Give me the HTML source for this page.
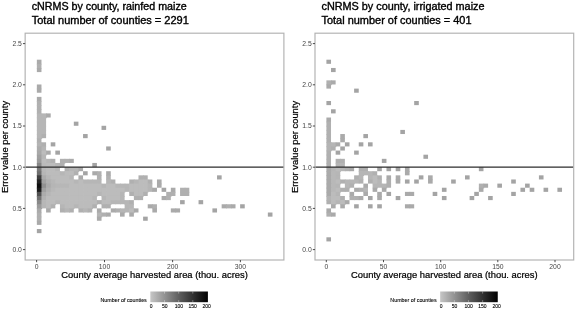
<!DOCTYPE html>
<html lang="en">
<head>
<meta charset="utf-8">
<title>cNRMS by county</title>
<style>
html,body{margin:0;padding:0;background:#fff;}
body{width:575px;height:311px;overflow:hidden;}
svg{display:block;}
text{font-family:"Liberation Sans",sans-serif;}
.tt{font-size:10.2px;fill:#000;stroke:#000;stroke-width:0.35px;}
.ax{font-size:9.38px;fill:#000;stroke:#000;stroke-width:0.22px;}
.tk{font-size:6.8px;fill:#454545;}
.lg{font-size:5px;fill:#000;stroke:#000;stroke-width:0.1px;}
.lt{font-size:5.35px;fill:#000;stroke:#000;stroke-width:0.1px;}
</style>
</head>
<body>
<svg width="575" height="311" viewBox="0 0 575 311">
<defs>
<linearGradient id="lg" x1="0" y1="0" x2="1" y2="0">
<stop offset="0" stop-color="#c6c6c6"/>
<stop offset="0.5" stop-color="#5e5e5e"/>
<stop offset="1" stop-color="#000"/>
</linearGradient>
</defs>
<rect x="0" y="0" width="575" height="311" fill="#fff"/>
<g shape-rendering="auto">
<rect x="36.85" y="59.70" width="4.62" height="4.83" fill="#aaaaaa"/>
<rect x="36.85" y="63.83" width="4.62" height="4.83" fill="#b0b0b0"/>
<rect x="36.85" y="67.96" width="4.62" height="4.13" fill="#aaaaaa"/>
<rect x="36.85" y="84.48" width="4.62" height="4.83" fill="#aaaaaa"/>
<rect x="36.85" y="88.61" width="4.62" height="4.13" fill="#aaaaaa"/>
<rect x="36.85" y="96.87" width="4.62" height="4.83" fill="#aaaaaa"/>
<rect x="36.85" y="101.00" width="4.62" height="4.83" fill="#b0b0b0"/>
<rect x="36.85" y="105.13" width="4.62" height="4.83" fill="#b0b0b0"/>
<rect x="36.85" y="109.26" width="4.62" height="4.83" fill="#b0b0b0"/>
<rect x="36.85" y="113.39" width="5.32" height="4.83" fill="#b6b6b6"/>
<rect x="41.47" y="113.39" width="5.32" height="4.83" fill="#b6b6b6"/>
<rect x="46.09" y="113.39" width="4.62" height="4.13" fill="#aaaaaa"/>
<rect x="36.85" y="117.52" width="5.32" height="4.83" fill="#b6b6b6"/>
<rect x="41.47" y="117.52" width="4.62" height="4.83" fill="#b6b6b6"/>
<rect x="36.85" y="121.65" width="5.32" height="4.83" fill="#b6b6b6"/>
<rect x="41.47" y="121.65" width="4.62" height="4.83" fill="#b6b6b6"/>
<rect x="73.81" y="121.65" width="4.62" height="4.13" fill="#a4a4a4"/>
<rect x="36.85" y="125.78" width="5.32" height="4.83" fill="#b6b6b6"/>
<rect x="41.47" y="125.78" width="4.62" height="4.83" fill="#b6b6b6"/>
<rect x="101.53" y="125.78" width="4.62" height="4.13" fill="#a4a4a4"/>
<rect x="36.85" y="129.91" width="5.32" height="4.83" fill="#b6b6b6"/>
<rect x="41.47" y="129.91" width="4.62" height="4.83" fill="#b6b6b6"/>
<rect x="36.85" y="134.04" width="5.32" height="4.83" fill="#b6b6b6"/>
<rect x="41.47" y="134.04" width="4.62" height="4.13" fill="#b0b0b0"/>
<rect x="83.05" y="134.04" width="4.62" height="4.13" fill="#a4a4a4"/>
<rect x="36.85" y="138.17" width="4.62" height="4.83" fill="#b0b0b0"/>
<rect x="36.85" y="142.30" width="5.32" height="4.83" fill="#b4b4b4"/>
<rect x="41.47" y="142.30" width="4.62" height="4.83" fill="#b0b0b0"/>
<rect x="50.71" y="142.30" width="4.62" height="4.13" fill="#a4a4a4"/>
<rect x="36.85" y="146.43" width="5.32" height="4.83" fill="#acacac"/>
<rect x="41.47" y="146.43" width="4.62" height="4.83" fill="#b6b6b6"/>
<rect x="106.15" y="146.43" width="4.62" height="4.13" fill="#a4a4a4"/>
<rect x="36.85" y="150.56" width="5.32" height="4.83" fill="#a8a8a8"/>
<rect x="41.47" y="150.56" width="5.32" height="4.83" fill="#bcbcbc"/>
<rect x="46.09" y="150.56" width="4.62" height="4.13" fill="#aaaaaa"/>
<rect x="55.33" y="150.56" width="4.62" height="4.13" fill="#a4a4a4"/>
<rect x="36.85" y="154.69" width="5.32" height="4.83" fill="#a0a0a0"/>
<rect x="41.47" y="154.69" width="4.62" height="4.83" fill="#b6b6b6"/>
<rect x="36.85" y="158.82" width="5.32" height="4.83" fill="#9b9b9b"/>
<rect x="41.47" y="158.82" width="5.32" height="4.83" fill="#bcbcbc"/>
<rect x="46.09" y="158.82" width="5.32" height="4.83" fill="#b6b6b6"/>
<rect x="50.71" y="158.82" width="4.62" height="4.83" fill="#b0b0b0"/>
<rect x="59.95" y="158.82" width="5.32" height="4.83" fill="#b0b0b0"/>
<rect x="64.57" y="158.82" width="5.32" height="4.13" fill="#b0b0b0"/>
<rect x="69.19" y="158.82" width="4.62" height="4.13" fill="#aaaaaa"/>
<rect x="36.85" y="162.95" width="5.32" height="4.83" fill="#878787"/>
<rect x="41.47" y="162.95" width="5.32" height="4.83" fill="#bababa"/>
<rect x="46.09" y="162.95" width="5.32" height="4.83" fill="#bcbcbc"/>
<rect x="50.71" y="162.95" width="5.32" height="4.83" fill="#bcbcbc"/>
<rect x="55.33" y="162.95" width="5.32" height="4.83" fill="#b6b6b6"/>
<rect x="59.95" y="162.95" width="4.62" height="4.13" fill="#b0b0b0"/>
<rect x="92.29" y="162.95" width="4.62" height="4.13" fill="#a4a4a4"/>
<rect x="36.85" y="167.08" width="5.32" height="4.83" fill="#787878"/>
<rect x="41.47" y="167.08" width="5.32" height="4.83" fill="#b8b8b8"/>
<rect x="46.09" y="167.08" width="5.32" height="4.83" fill="#bcbcbc"/>
<rect x="50.71" y="167.08" width="5.32" height="4.83" fill="#bcbcbc"/>
<rect x="55.33" y="167.08" width="4.62" height="4.83" fill="#b6b6b6"/>
<rect x="64.57" y="167.08" width="5.32" height="4.83" fill="#b0b0b0"/>
<rect x="69.19" y="167.08" width="5.32" height="4.83" fill="#b6b6b6"/>
<rect x="73.81" y="167.08" width="5.32" height="4.83" fill="#b6b6b6"/>
<rect x="78.43" y="167.08" width="4.62" height="4.13" fill="#aaaaaa"/>
<rect x="36.85" y="171.21" width="5.32" height="4.83" fill="#6e6e6e"/>
<rect x="41.47" y="171.21" width="5.32" height="4.83" fill="#b6b6b6"/>
<rect x="46.09" y="171.21" width="5.32" height="4.83" fill="#bcbcbc"/>
<rect x="50.71" y="171.21" width="5.32" height="4.83" fill="#bcbcbc"/>
<rect x="55.33" y="171.21" width="5.32" height="4.83" fill="#bcbcbc"/>
<rect x="59.95" y="171.21" width="5.32" height="4.83" fill="#b6b6b6"/>
<rect x="64.57" y="171.21" width="5.32" height="4.83" fill="#bcbcbc"/>
<rect x="69.19" y="171.21" width="5.32" height="4.83" fill="#bcbcbc"/>
<rect x="73.81" y="171.21" width="4.62" height="4.13" fill="#b0b0b0"/>
<rect x="83.05" y="171.21" width="4.62" height="4.13" fill="#a4a4a4"/>
<rect x="92.29" y="171.21" width="5.32" height="4.13" fill="#aaaaaa"/>
<rect x="96.91" y="171.21" width="4.62" height="4.83" fill="#b0b0b0"/>
<rect x="106.15" y="171.21" width="4.62" height="4.83" fill="#aaaaaa"/>
<rect x="36.85" y="175.34" width="5.32" height="4.83" fill="#3e3e3e"/>
<rect x="41.47" y="175.34" width="5.32" height="4.83" fill="#acacac"/>
<rect x="46.09" y="175.34" width="5.32" height="4.83" fill="#b7b7b7"/>
<rect x="50.71" y="175.34" width="5.32" height="4.83" fill="#bcbcbc"/>
<rect x="55.33" y="175.34" width="5.32" height="4.83" fill="#bcbcbc"/>
<rect x="59.95" y="175.34" width="5.32" height="4.83" fill="#bcbcbc"/>
<rect x="64.57" y="175.34" width="5.32" height="4.83" fill="#bcbcbc"/>
<rect x="69.19" y="175.34" width="4.62" height="4.83" fill="#b6b6b6"/>
<rect x="78.43" y="175.34" width="4.62" height="4.83" fill="#aaaaaa"/>
<rect x="96.91" y="175.34" width="4.62" height="4.83" fill="#b0b0b0"/>
<rect x="106.15" y="175.34" width="4.62" height="4.83" fill="#b0b0b0"/>
<rect x="138.49" y="175.34" width="5.32" height="4.83" fill="#b0b0b0"/>
<rect x="143.11" y="175.34" width="4.62" height="4.83" fill="#b0b0b0"/>
<rect x="217.03" y="175.34" width="4.62" height="4.13" fill="#a4a4a4"/>
<rect x="36.85" y="179.47" width="5.32" height="4.83" fill="#242424"/>
<rect x="41.47" y="179.47" width="5.32" height="4.83" fill="#a2a2a2"/>
<rect x="46.09" y="179.47" width="5.32" height="4.83" fill="#b0b0b0"/>
<rect x="50.71" y="179.47" width="5.32" height="4.83" fill="#b7b7b7"/>
<rect x="55.33" y="179.47" width="5.32" height="4.83" fill="#bcbcbc"/>
<rect x="59.95" y="179.47" width="5.32" height="4.83" fill="#bcbcbc"/>
<rect x="64.57" y="179.47" width="5.32" height="4.83" fill="#bcbcbc"/>
<rect x="69.19" y="179.47" width="5.32" height="4.83" fill="#bcbcbc"/>
<rect x="73.81" y="179.47" width="5.32" height="4.83" fill="#b6b6b6"/>
<rect x="78.43" y="179.47" width="5.32" height="4.83" fill="#bcbcbc"/>
<rect x="83.05" y="179.47" width="5.32" height="4.83" fill="#b6b6b6"/>
<rect x="87.67" y="179.47" width="5.32" height="4.83" fill="#b6b6b6"/>
<rect x="92.29" y="179.47" width="5.32" height="4.83" fill="#b6b6b6"/>
<rect x="96.91" y="179.47" width="4.62" height="4.83" fill="#b6b6b6"/>
<rect x="106.15" y="179.47" width="5.32" height="4.83" fill="#b6b6b6"/>
<rect x="110.77" y="179.47" width="4.62" height="4.83" fill="#b0b0b0"/>
<rect x="129.25" y="179.47" width="5.32" height="4.83" fill="#b0b0b0"/>
<rect x="133.87" y="179.47" width="5.32" height="4.83" fill="#b6b6b6"/>
<rect x="138.49" y="179.47" width="5.32" height="4.83" fill="#bcbcbc"/>
<rect x="143.11" y="179.47" width="5.32" height="4.83" fill="#bcbcbc"/>
<rect x="147.73" y="179.47" width="4.62" height="4.83" fill="#b0b0b0"/>
<rect x="156.97" y="179.47" width="4.62" height="4.83" fill="#aaaaaa"/>
<rect x="36.85" y="183.60" width="5.32" height="4.83" fill="#0e0e0e"/>
<rect x="41.47" y="183.60" width="5.32" height="4.83" fill="#919191"/>
<rect x="46.09" y="183.60" width="5.32" height="4.83" fill="#aaaaaa"/>
<rect x="50.71" y="183.60" width="5.32" height="4.83" fill="#b5b5b5"/>
<rect x="55.33" y="183.60" width="5.32" height="4.83" fill="#b7b7b7"/>
<rect x="59.95" y="183.60" width="5.32" height="4.83" fill="#b7b7b7"/>
<rect x="64.57" y="183.60" width="5.32" height="4.83" fill="#b7b7b7"/>
<rect x="69.19" y="183.60" width="5.32" height="4.83" fill="#bcbcbc"/>
<rect x="73.81" y="183.60" width="5.32" height="4.83" fill="#bcbcbc"/>
<rect x="78.43" y="183.60" width="5.32" height="4.83" fill="#bcbcbc"/>
<rect x="83.05" y="183.60" width="5.32" height="4.83" fill="#bcbcbc"/>
<rect x="87.67" y="183.60" width="5.32" height="4.83" fill="#bcbcbc"/>
<rect x="92.29" y="183.60" width="5.32" height="4.83" fill="#bcbcbc"/>
<rect x="96.91" y="183.60" width="5.32" height="4.83" fill="#bcbcbc"/>
<rect x="101.53" y="183.60" width="5.32" height="4.83" fill="#b6b6b6"/>
<rect x="106.15" y="183.60" width="5.32" height="4.83" fill="#bcbcbc"/>
<rect x="110.77" y="183.60" width="5.32" height="4.83" fill="#bcbcbc"/>
<rect x="115.39" y="183.60" width="5.32" height="4.83" fill="#b6b6b6"/>
<rect x="120.01" y="183.60" width="5.32" height="4.83" fill="#b6b6b6"/>
<rect x="124.63" y="183.60" width="5.32" height="4.83" fill="#b6b6b6"/>
<rect x="129.25" y="183.60" width="5.32" height="4.83" fill="#bcbcbc"/>
<rect x="133.87" y="183.60" width="5.32" height="4.83" fill="#bcbcbc"/>
<rect x="138.49" y="183.60" width="5.32" height="4.83" fill="#bcbcbc"/>
<rect x="143.11" y="183.60" width="5.32" height="4.83" fill="#bcbcbc"/>
<rect x="147.73" y="183.60" width="4.62" height="4.83" fill="#b6b6b6"/>
<rect x="156.97" y="183.60" width="4.62" height="4.13" fill="#aaaaaa"/>
<rect x="36.85" y="187.73" width="5.32" height="4.83" fill="#1c1c1c"/>
<rect x="41.47" y="187.73" width="5.32" height="4.83" fill="#a0a0a0"/>
<rect x="46.09" y="187.73" width="5.32" height="4.83" fill="#b0b0b0"/>
<rect x="50.71" y="187.73" width="5.32" height="4.83" fill="#b8b8b8"/>
<rect x="55.33" y="187.73" width="5.32" height="4.83" fill="#bcbcbc"/>
<rect x="59.95" y="187.73" width="5.32" height="4.83" fill="#bcbcbc"/>
<rect x="64.57" y="187.73" width="5.32" height="4.83" fill="#bcbcbc"/>
<rect x="69.19" y="187.73" width="5.32" height="4.83" fill="#bcbcbc"/>
<rect x="73.81" y="187.73" width="5.32" height="4.83" fill="#bcbcbc"/>
<rect x="78.43" y="187.73" width="5.32" height="4.83" fill="#bcbcbc"/>
<rect x="83.05" y="187.73" width="5.32" height="4.83" fill="#bcbcbc"/>
<rect x="87.67" y="187.73" width="5.32" height="4.83" fill="#bcbcbc"/>
<rect x="92.29" y="187.73" width="5.32" height="4.83" fill="#bcbcbc"/>
<rect x="96.91" y="187.73" width="5.32" height="4.83" fill="#bcbcbc"/>
<rect x="101.53" y="187.73" width="5.32" height="4.83" fill="#bcbcbc"/>
<rect x="106.15" y="187.73" width="5.32" height="4.83" fill="#bcbcbc"/>
<rect x="110.77" y="187.73" width="5.32" height="4.83" fill="#bcbcbc"/>
<rect x="115.39" y="187.73" width="5.32" height="4.83" fill="#bcbcbc"/>
<rect x="120.01" y="187.73" width="5.32" height="4.83" fill="#bcbcbc"/>
<rect x="124.63" y="187.73" width="5.32" height="4.13" fill="#b6b6b6"/>
<rect x="129.25" y="187.73" width="5.32" height="4.83" fill="#bcbcbc"/>
<rect x="133.87" y="187.73" width="5.32" height="4.83" fill="#bcbcbc"/>
<rect x="138.49" y="187.73" width="5.32" height="4.83" fill="#bcbcbc"/>
<rect x="143.11" y="187.73" width="5.32" height="4.83" fill="#bcbcbc"/>
<rect x="147.73" y="187.73" width="5.32" height="4.13" fill="#b6b6b6"/>
<rect x="152.35" y="187.73" width="4.62" height="4.13" fill="#aaaaaa"/>
<rect x="161.59" y="187.73" width="4.62" height="4.13" fill="#a4a4a4"/>
<rect x="170.83" y="187.73" width="4.62" height="4.83" fill="#aaaaaa"/>
<rect x="180.07" y="187.73" width="5.32" height="4.83" fill="#b0b0b0"/>
<rect x="184.69" y="187.73" width="4.62" height="4.83" fill="#b0b0b0"/>
<rect x="36.85" y="191.86" width="5.32" height="4.83" fill="#505050"/>
<rect x="41.47" y="191.86" width="5.32" height="4.83" fill="#acacac"/>
<rect x="46.09" y="191.86" width="5.32" height="4.83" fill="#b6b6b6"/>
<rect x="50.71" y="191.86" width="5.32" height="4.83" fill="#bcbcbc"/>
<rect x="55.33" y="191.86" width="5.32" height="4.83" fill="#bcbcbc"/>
<rect x="59.95" y="191.86" width="5.32" height="4.83" fill="#bcbcbc"/>
<rect x="64.57" y="191.86" width="5.32" height="4.83" fill="#bcbcbc"/>
<rect x="69.19" y="191.86" width="5.32" height="4.83" fill="#bcbcbc"/>
<rect x="73.81" y="191.86" width="5.32" height="4.83" fill="#bcbcbc"/>
<rect x="78.43" y="191.86" width="5.32" height="4.83" fill="#bcbcbc"/>
<rect x="83.05" y="191.86" width="5.32" height="4.83" fill="#bcbcbc"/>
<rect x="87.67" y="191.86" width="5.32" height="4.83" fill="#bcbcbc"/>
<rect x="92.29" y="191.86" width="5.32" height="4.83" fill="#bcbcbc"/>
<rect x="96.91" y="191.86" width="5.32" height="4.13" fill="#b6b6b6"/>
<rect x="101.53" y="191.86" width="5.32" height="4.83" fill="#bcbcbc"/>
<rect x="106.15" y="191.86" width="5.32" height="4.83" fill="#bcbcbc"/>
<rect x="110.77" y="191.86" width="5.32" height="4.83" fill="#bcbcbc"/>
<rect x="115.39" y="191.86" width="5.32" height="4.83" fill="#bcbcbc"/>
<rect x="120.01" y="191.86" width="4.62" height="4.83" fill="#b6b6b6"/>
<rect x="129.25" y="191.86" width="5.32" height="4.13" fill="#b0b0b0"/>
<rect x="133.87" y="191.86" width="5.32" height="4.83" fill="#bcbcbc"/>
<rect x="138.49" y="191.86" width="5.32" height="4.83" fill="#bcbcbc"/>
<rect x="143.11" y="191.86" width="4.62" height="4.13" fill="#b0b0b0"/>
<rect x="166.21" y="191.86" width="5.32" height="4.83" fill="#b0b0b0"/>
<rect x="170.83" y="191.86" width="4.62" height="4.13" fill="#b0b0b0"/>
<rect x="180.07" y="191.86" width="5.32" height="4.13" fill="#b0b0b0"/>
<rect x="184.69" y="191.86" width="4.62" height="4.13" fill="#b0b0b0"/>
<rect x="36.85" y="195.99" width="5.32" height="4.83" fill="#707070"/>
<rect x="41.47" y="195.99" width="5.32" height="4.83" fill="#b2b2b2"/>
<rect x="46.09" y="195.99" width="5.32" height="4.83" fill="#bcbcbc"/>
<rect x="50.71" y="195.99" width="5.32" height="4.83" fill="#bcbcbc"/>
<rect x="55.33" y="195.99" width="5.32" height="4.83" fill="#bcbcbc"/>
<rect x="59.95" y="195.99" width="5.32" height="4.83" fill="#bcbcbc"/>
<rect x="64.57" y="195.99" width="5.32" height="4.83" fill="#bcbcbc"/>
<rect x="69.19" y="195.99" width="5.32" height="4.83" fill="#bcbcbc"/>
<rect x="73.81" y="195.99" width="5.32" height="4.83" fill="#bcbcbc"/>
<rect x="78.43" y="195.99" width="5.32" height="4.83" fill="#bcbcbc"/>
<rect x="83.05" y="195.99" width="5.32" height="4.83" fill="#bcbcbc"/>
<rect x="87.67" y="195.99" width="5.32" height="4.83" fill="#bcbcbc"/>
<rect x="92.29" y="195.99" width="4.62" height="4.83" fill="#b6b6b6"/>
<rect x="101.53" y="195.99" width="5.32" height="4.83" fill="#b6b6b6"/>
<rect x="106.15" y="195.99" width="5.32" height="4.83" fill="#bcbcbc"/>
<rect x="110.77" y="195.99" width="5.32" height="4.83" fill="#bcbcbc"/>
<rect x="115.39" y="195.99" width="5.32" height="4.83" fill="#bcbcbc"/>
<rect x="120.01" y="195.99" width="4.62" height="4.83" fill="#b6b6b6"/>
<rect x="133.87" y="195.99" width="5.32" height="4.13" fill="#b0b0b0"/>
<rect x="138.49" y="195.99" width="4.62" height="4.13" fill="#b0b0b0"/>
<rect x="161.59" y="195.99" width="5.32" height="4.13" fill="#aaaaaa"/>
<rect x="166.21" y="195.99" width="4.62" height="4.13" fill="#b0b0b0"/>
<rect x="36.85" y="200.12" width="5.32" height="4.83" fill="#888888"/>
<rect x="41.47" y="200.12" width="5.32" height="4.83" fill="#b7b7b7"/>
<rect x="46.09" y="200.12" width="5.32" height="4.83" fill="#bcbcbc"/>
<rect x="50.71" y="200.12" width="5.32" height="4.83" fill="#bcbcbc"/>
<rect x="55.33" y="200.12" width="5.32" height="4.13" fill="#b6b6b6"/>
<rect x="59.95" y="200.12" width="5.32" height="4.83" fill="#bcbcbc"/>
<rect x="64.57" y="200.12" width="5.32" height="4.83" fill="#bcbcbc"/>
<rect x="69.19" y="200.12" width="5.32" height="4.83" fill="#bcbcbc"/>
<rect x="73.81" y="200.12" width="5.32" height="4.83" fill="#bcbcbc"/>
<rect x="78.43" y="200.12" width="5.32" height="4.83" fill="#bcbcbc"/>
<rect x="83.05" y="200.12" width="5.32" height="4.83" fill="#bcbcbc"/>
<rect x="87.67" y="200.12" width="5.32" height="4.83" fill="#bcbcbc"/>
<rect x="92.29" y="200.12" width="5.32" height="4.83" fill="#bcbcbc"/>
<rect x="96.91" y="200.12" width="5.32" height="4.13" fill="#b0b0b0"/>
<rect x="101.53" y="200.12" width="5.32" height="4.83" fill="#bcbcbc"/>
<rect x="106.15" y="200.12" width="5.32" height="4.83" fill="#bcbcbc"/>
<rect x="110.77" y="200.12" width="5.32" height="4.13" fill="#b6b6b6"/>
<rect x="115.39" y="200.12" width="5.32" height="4.13" fill="#b6b6b6"/>
<rect x="120.01" y="200.12" width="5.32" height="4.13" fill="#b6b6b6"/>
<rect x="124.63" y="200.12" width="5.32" height="4.83" fill="#b6b6b6"/>
<rect x="129.25" y="200.12" width="4.62" height="4.83" fill="#b0b0b0"/>
<rect x="180.07" y="200.12" width="4.62" height="4.13" fill="#a4a4a4"/>
<rect x="198.55" y="200.12" width="4.62" height="4.13" fill="#a4a4a4"/>
<rect x="36.85" y="204.25" width="5.32" height="4.83" fill="#9b9b9b"/>
<rect x="41.47" y="204.25" width="5.32" height="4.13" fill="#b6b6b6"/>
<rect x="46.09" y="204.25" width="5.32" height="4.83" fill="#bcbcbc"/>
<rect x="50.71" y="204.25" width="4.62" height="4.13" fill="#b0b0b0"/>
<rect x="59.95" y="204.25" width="5.32" height="4.83" fill="#b6b6b6"/>
<rect x="64.57" y="204.25" width="5.32" height="4.83" fill="#bcbcbc"/>
<rect x="69.19" y="204.25" width="5.32" height="4.83" fill="#bcbcbc"/>
<rect x="73.81" y="204.25" width="5.32" height="4.13" fill="#b6b6b6"/>
<rect x="78.43" y="204.25" width="5.32" height="4.83" fill="#bcbcbc"/>
<rect x="83.05" y="204.25" width="5.32" height="4.83" fill="#bcbcbc"/>
<rect x="87.67" y="204.25" width="5.32" height="4.83" fill="#bcbcbc"/>
<rect x="92.29" y="204.25" width="4.62" height="4.13" fill="#b0b0b0"/>
<rect x="101.53" y="204.25" width="5.32" height="4.13" fill="#b0b0b0"/>
<rect x="106.15" y="204.25" width="4.62" height="4.13" fill="#b0b0b0"/>
<rect x="124.63" y="204.25" width="5.32" height="4.83" fill="#b6b6b6"/>
<rect x="129.25" y="204.25" width="4.62" height="4.83" fill="#b6b6b6"/>
<rect x="147.73" y="204.25" width="5.32" height="4.13" fill="#aaaaaa"/>
<rect x="152.35" y="204.25" width="4.62" height="4.83" fill="#b0b0b0"/>
<rect x="221.65" y="204.25" width="5.32" height="4.13" fill="#aaaaaa"/>
<rect x="226.27" y="204.25" width="5.32" height="4.13" fill="#b0b0b0"/>
<rect x="230.89" y="204.25" width="4.62" height="4.13" fill="#aaaaaa"/>
<rect x="240.13" y="204.25" width="4.62" height="4.13" fill="#a4a4a4"/>
<rect x="36.85" y="208.38" width="4.62" height="4.83" fill="#aaaaaa"/>
<rect x="46.09" y="208.38" width="4.62" height="4.13" fill="#aaaaaa"/>
<rect x="59.95" y="208.38" width="5.32" height="4.13" fill="#b0b0b0"/>
<rect x="64.57" y="208.38" width="5.32" height="4.13" fill="#b6b6b6"/>
<rect x="69.19" y="208.38" width="4.62" height="4.13" fill="#b0b0b0"/>
<rect x="78.43" y="208.38" width="5.32" height="4.13" fill="#b0b0b0"/>
<rect x="83.05" y="208.38" width="5.32" height="4.13" fill="#b6b6b6"/>
<rect x="87.67" y="208.38" width="4.62" height="4.13" fill="#b0b0b0"/>
<rect x="96.91" y="208.38" width="4.62" height="4.83" fill="#aaaaaa"/>
<rect x="110.77" y="208.38" width="5.32" height="4.13" fill="#aaaaaa"/>
<rect x="115.39" y="208.38" width="5.32" height="4.13" fill="#b0b0b0"/>
<rect x="120.01" y="208.38" width="5.32" height="4.83" fill="#b6b6b6"/>
<rect x="124.63" y="208.38" width="5.32" height="4.13" fill="#b6b6b6"/>
<rect x="129.25" y="208.38" width="5.32" height="4.83" fill="#bcbcbc"/>
<rect x="133.87" y="208.38" width="4.62" height="4.13" fill="#aaaaaa"/>
<rect x="152.35" y="208.38" width="4.62" height="4.13" fill="#aaaaaa"/>
<rect x="170.83" y="208.38" width="5.32" height="4.13" fill="#aaaaaa"/>
<rect x="175.45" y="208.38" width="4.62" height="4.13" fill="#aaaaaa"/>
<rect x="212.41" y="208.38" width="4.62" height="4.13" fill="#a4a4a4"/>
<rect x="36.85" y="212.51" width="4.62" height="4.83" fill="#b0b0b0"/>
<rect x="96.91" y="212.51" width="5.32" height="4.83" fill="#b6b6b6"/>
<rect x="101.53" y="212.51" width="5.32" height="4.13" fill="#b0b0b0"/>
<rect x="106.15" y="212.51" width="4.62" height="4.13" fill="#aaaaaa"/>
<rect x="120.01" y="212.51" width="4.62" height="4.13" fill="#aaaaaa"/>
<rect x="129.25" y="212.51" width="4.62" height="4.13" fill="#aaaaaa"/>
<rect x="267.85" y="212.51" width="4.62" height="4.13" fill="#a4a4a4"/>
<rect x="36.85" y="216.64" width="4.62" height="4.83" fill="#b0b0b0"/>
<rect x="96.91" y="216.64" width="4.62" height="4.13" fill="#aaaaaa"/>
<rect x="143.11" y="216.64" width="4.62" height="4.13" fill="#a4a4a4"/>
<rect x="36.85" y="220.77" width="4.62" height="4.13" fill="#aaaaaa"/>
<rect x="36.85" y="229.03" width="4.62" height="4.13" fill="#a4a4a4"/>
</g>
<line x1="25.15" y1="167.05" x2="283.90" y2="167.05" stroke="#2c2c2c" stroke-width="1.2"/>
<rect x="25.15" y="33.20" width="258.75" height="226.80" fill="none" stroke="#b4b4b4" stroke-width="1.2"/>
<line x1="22.95" y1="249.60" x2="25.15" y2="249.60" stroke="#383838" stroke-width="0.9"/>
<text x="21.85" y="251.95" class="tk" text-anchor="end">0.0</text>
<line x1="22.95" y1="208.40" x2="25.15" y2="208.40" stroke="#383838" stroke-width="0.9"/>
<text x="21.85" y="210.75" class="tk" text-anchor="end">0.5</text>
<line x1="22.95" y1="167.20" x2="25.15" y2="167.20" stroke="#383838" stroke-width="0.9"/>
<text x="21.85" y="169.55" class="tk" text-anchor="end">1.0</text>
<line x1="22.95" y1="126.00" x2="25.15" y2="126.00" stroke="#383838" stroke-width="0.9"/>
<text x="21.85" y="128.35" class="tk" text-anchor="end">1.5</text>
<line x1="22.95" y1="84.80" x2="25.15" y2="84.80" stroke="#383838" stroke-width="0.9"/>
<text x="21.85" y="87.15" class="tk" text-anchor="end">2.0</text>
<line x1="22.95" y1="43.60" x2="25.15" y2="43.60" stroke="#383838" stroke-width="0.9"/>
<text x="21.85" y="45.95" class="tk" text-anchor="end">2.5</text>
<line x1="36.60" y1="260.00" x2="36.60" y2="262.20" stroke="#383838" stroke-width="0.9"/>
<text x="36.60" y="268.80" class="tk" text-anchor="middle">0</text>
<line x1="104.50" y1="260.00" x2="104.50" y2="262.20" stroke="#383838" stroke-width="0.9"/>
<text x="104.50" y="268.80" class="tk" text-anchor="middle">100</text>
<line x1="172.60" y1="260.00" x2="172.60" y2="262.20" stroke="#383838" stroke-width="0.9"/>
<text x="172.60" y="268.80" class="tk" text-anchor="middle">200</text>
<line x1="240.40" y1="260.00" x2="240.40" y2="262.20" stroke="#383838" stroke-width="0.9"/>
<text x="240.40" y="268.80" class="tk" text-anchor="middle">300</text>
<text x="154.52" y="278.00" class="ax" text-anchor="middle">County average harvested area (thou. acres)</text>
<text transform="translate(8.15 147.00) rotate(-90)" class="ax" text-anchor="middle">Error value per county</text>
<text x="31.70" y="9.9" class="tt" textLength="155" lengthAdjust="spacingAndGlyphs">cNRMS by county, rainfed maize</text>
<text x="31.70" y="24.45" class="tt" textLength="157.2" lengthAdjust="spacingAndGlyphs">Total number of counties = 2291</text>
<g shape-rendering="auto">
<rect x="326.40" y="59.70" width="4.62" height="4.13" fill="#a4a4a4"/>
<rect x="331.02" y="67.96" width="4.62" height="4.13" fill="#a4a4a4"/>
<rect x="326.40" y="80.35" width="5.32" height="4.83" fill="#b0b0b0"/>
<rect x="331.02" y="80.35" width="4.62" height="4.13" fill="#aaaaaa"/>
<rect x="326.40" y="84.48" width="4.62" height="4.13" fill="#aaaaaa"/>
<rect x="354.12" y="88.61" width="4.62" height="4.13" fill="#a4a4a4"/>
<rect x="326.40" y="101.00" width="4.62" height="4.13" fill="#a4a4a4"/>
<rect x="414.18" y="101.00" width="4.62" height="4.13" fill="#a4a4a4"/>
<rect x="331.02" y="109.26" width="4.62" height="4.13" fill="#a4a4a4"/>
<rect x="326.40" y="117.52" width="4.62" height="4.83" fill="#aaaaaa"/>
<rect x="326.40" y="121.65" width="4.62" height="4.83" fill="#b0b0b0"/>
<rect x="326.40" y="125.78" width="4.62" height="4.83" fill="#b0b0b0"/>
<rect x="326.40" y="129.91" width="4.62" height="4.83" fill="#b0b0b0"/>
<rect x="400.32" y="129.91" width="4.62" height="4.13" fill="#a4a4a4"/>
<rect x="326.40" y="134.04" width="4.62" height="4.83" fill="#b0b0b0"/>
<rect x="340.26" y="134.04" width="4.62" height="4.83" fill="#aaaaaa"/>
<rect x="363.36" y="134.04" width="4.62" height="4.13" fill="#a4a4a4"/>
<rect x="326.40" y="138.17" width="4.62" height="4.83" fill="#b0b0b0"/>
<rect x="340.26" y="138.17" width="4.62" height="4.13" fill="#aaaaaa"/>
<rect x="326.40" y="142.30" width="5.32" height="4.83" fill="#b4b4b4"/>
<rect x="331.02" y="142.30" width="5.32" height="4.83" fill="#b6b6b6"/>
<rect x="335.64" y="142.30" width="4.62" height="4.13" fill="#aaaaaa"/>
<rect x="344.88" y="142.30" width="4.62" height="4.13" fill="#a4a4a4"/>
<rect x="358.74" y="142.30" width="4.62" height="4.13" fill="#a4a4a4"/>
<rect x="367.98" y="142.30" width="4.62" height="4.13" fill="#a4a4a4"/>
<rect x="326.40" y="146.43" width="5.32" height="4.83" fill="#b4b4b4"/>
<rect x="331.02" y="146.43" width="4.62" height="4.13" fill="#b0b0b0"/>
<rect x="340.26" y="146.43" width="4.62" height="4.13" fill="#a4a4a4"/>
<rect x="326.40" y="150.56" width="4.62" height="4.83" fill="#b0b0b0"/>
<rect x="335.64" y="150.56" width="4.62" height="4.13" fill="#a4a4a4"/>
<rect x="354.12" y="150.56" width="4.62" height="4.13" fill="#a4a4a4"/>
<rect x="326.40" y="154.69" width="4.62" height="4.83" fill="#b0b0b0"/>
<rect x="423.42" y="154.69" width="4.62" height="4.13" fill="#a4a4a4"/>
<rect x="326.40" y="158.82" width="4.62" height="4.83" fill="#b0b0b0"/>
<rect x="335.64" y="158.82" width="5.32" height="4.83" fill="#b0b0b0"/>
<rect x="340.26" y="158.82" width="4.62" height="4.83" fill="#b0b0b0"/>
<rect x="381.84" y="158.82" width="4.62" height="4.13" fill="#a4a4a4"/>
<rect x="326.40" y="162.95" width="4.62" height="4.83" fill="#b0b0b0"/>
<rect x="335.64" y="162.95" width="5.32" height="4.83" fill="#b6b6b6"/>
<rect x="340.26" y="162.95" width="4.62" height="4.83" fill="#b6b6b6"/>
<rect x="326.40" y="167.08" width="5.32" height="4.83" fill="#aaaaaa"/>
<rect x="331.02" y="167.08" width="5.32" height="4.83" fill="#b6b6b6"/>
<rect x="335.64" y="167.08" width="5.32" height="4.83" fill="#bcbcbc"/>
<rect x="340.26" y="167.08" width="5.32" height="4.13" fill="#b6b6b6"/>
<rect x="344.88" y="167.08" width="5.32" height="4.13" fill="#b0b0b0"/>
<rect x="349.50" y="167.08" width="4.62" height="4.13" fill="#aaaaaa"/>
<rect x="358.74" y="167.08" width="5.32" height="4.83" fill="#b0b0b0"/>
<rect x="363.36" y="167.08" width="4.62" height="4.83" fill="#b0b0b0"/>
<rect x="377.22" y="167.08" width="4.62" height="4.13" fill="#a4a4a4"/>
<rect x="386.46" y="167.08" width="4.62" height="4.13" fill="#a4a4a4"/>
<rect x="395.70" y="167.08" width="4.62" height="4.13" fill="#a4a4a4"/>
<rect x="404.94" y="167.08" width="4.62" height="4.83" fill="#aaaaaa"/>
<rect x="478.86" y="167.08" width="4.62" height="4.13" fill="#a4a4a4"/>
<rect x="326.40" y="171.21" width="5.32" height="4.83" fill="#aaaaaa"/>
<rect x="331.02" y="171.21" width="5.32" height="4.83" fill="#b8b8b8"/>
<rect x="335.64" y="171.21" width="4.62" height="4.83" fill="#b6b6b6"/>
<rect x="358.74" y="171.21" width="5.32" height="4.83" fill="#b6b6b6"/>
<rect x="363.36" y="171.21" width="5.32" height="4.13" fill="#b6b6b6"/>
<rect x="367.98" y="171.21" width="5.32" height="4.83" fill="#b6b6b6"/>
<rect x="372.60" y="171.21" width="4.62" height="4.83" fill="#b0b0b0"/>
<rect x="404.94" y="171.21" width="4.62" height="4.13" fill="#aaaaaa"/>
<rect x="326.40" y="175.34" width="5.32" height="4.83" fill="#aaaaaa"/>
<rect x="331.02" y="175.34" width="5.32" height="4.83" fill="#b8b8b8"/>
<rect x="335.64" y="175.34" width="4.62" height="4.83" fill="#b6b6b6"/>
<rect x="354.12" y="175.34" width="5.32" height="4.83" fill="#b0b0b0"/>
<rect x="358.74" y="175.34" width="4.62" height="4.83" fill="#b6b6b6"/>
<rect x="367.98" y="175.34" width="5.32" height="4.83" fill="#b6b6b6"/>
<rect x="372.60" y="175.34" width="5.32" height="4.83" fill="#bcbcbc"/>
<rect x="377.22" y="175.34" width="4.62" height="4.83" fill="#b0b0b0"/>
<rect x="386.46" y="175.34" width="4.62" height="4.83" fill="#aaaaaa"/>
<rect x="395.70" y="175.34" width="4.62" height="4.83" fill="#aaaaaa"/>
<rect x="418.80" y="175.34" width="4.62" height="4.13" fill="#a4a4a4"/>
<rect x="428.04" y="175.34" width="4.62" height="4.83" fill="#aaaaaa"/>
<rect x="465.00" y="175.34" width="4.62" height="4.13" fill="#a4a4a4"/>
<rect x="538.92" y="175.34" width="4.62" height="4.13" fill="#a4a4a4"/>
<rect x="326.40" y="179.47" width="5.32" height="4.83" fill="#aaaaaa"/>
<rect x="331.02" y="179.47" width="5.32" height="4.83" fill="#b8b8b8"/>
<rect x="335.64" y="179.47" width="5.32" height="4.83" fill="#bcbcbc"/>
<rect x="340.26" y="179.47" width="5.32" height="4.13" fill="#b0b0b0"/>
<rect x="344.88" y="179.47" width="5.32" height="4.83" fill="#b6b6b6"/>
<rect x="349.50" y="179.47" width="5.32" height="4.83" fill="#b6b6b6"/>
<rect x="354.12" y="179.47" width="5.32" height="4.13" fill="#b6b6b6"/>
<rect x="358.74" y="179.47" width="4.62" height="4.13" fill="#b0b0b0"/>
<rect x="367.98" y="179.47" width="5.32" height="4.13" fill="#b0b0b0"/>
<rect x="372.60" y="179.47" width="5.32" height="4.83" fill="#bcbcbc"/>
<rect x="377.22" y="179.47" width="4.62" height="4.83" fill="#b6b6b6"/>
<rect x="386.46" y="179.47" width="4.62" height="4.83" fill="#b0b0b0"/>
<rect x="395.70" y="179.47" width="4.62" height="4.13" fill="#aaaaaa"/>
<rect x="404.94" y="179.47" width="4.62" height="4.13" fill="#a4a4a4"/>
<rect x="414.18" y="179.47" width="4.62" height="4.13" fill="#a4a4a4"/>
<rect x="428.04" y="179.47" width="4.62" height="4.13" fill="#aaaaaa"/>
<rect x="451.14" y="179.47" width="4.62" height="4.13" fill="#a4a4a4"/>
<rect x="511.20" y="179.47" width="4.62" height="4.13" fill="#a4a4a4"/>
<rect x="326.40" y="183.60" width="5.32" height="4.83" fill="#aaaaaa"/>
<rect x="331.02" y="183.60" width="5.32" height="4.83" fill="#b8b8b8"/>
<rect x="335.64" y="183.60" width="4.62" height="4.83" fill="#b6b6b6"/>
<rect x="344.88" y="183.60" width="5.32" height="4.83" fill="#b6b6b6"/>
<rect x="349.50" y="183.60" width="4.62" height="4.13" fill="#b0b0b0"/>
<rect x="363.36" y="183.60" width="4.62" height="4.83" fill="#aaaaaa"/>
<rect x="372.60" y="183.60" width="5.32" height="4.83" fill="#b6b6b6"/>
<rect x="377.22" y="183.60" width="5.32" height="4.13" fill="#b6b6b6"/>
<rect x="381.84" y="183.60" width="5.32" height="4.83" fill="#b6b6b6"/>
<rect x="386.46" y="183.60" width="4.62" height="4.13" fill="#b0b0b0"/>
<rect x="478.86" y="183.60" width="5.32" height="4.83" fill="#b0b0b0"/>
<rect x="483.48" y="183.60" width="4.62" height="4.13" fill="#aaaaaa"/>
<rect x="497.34" y="183.60" width="4.62" height="4.13" fill="#a4a4a4"/>
<rect x="525.06" y="183.60" width="4.62" height="4.13" fill="#a4a4a4"/>
<rect x="326.40" y="187.73" width="5.32" height="4.83" fill="#aaaaaa"/>
<rect x="331.02" y="187.73" width="5.32" height="4.83" fill="#b8b8b8"/>
<rect x="335.64" y="187.73" width="5.32" height="4.83" fill="#bcbcbc"/>
<rect x="340.26" y="187.73" width="5.32" height="4.13" fill="#b0b0b0"/>
<rect x="344.88" y="187.73" width="4.62" height="4.13" fill="#b0b0b0"/>
<rect x="354.12" y="187.73" width="5.32" height="4.13" fill="#aaaaaa"/>
<rect x="358.74" y="187.73" width="5.32" height="4.13" fill="#b0b0b0"/>
<rect x="363.36" y="187.73" width="4.62" height="4.83" fill="#b6b6b6"/>
<rect x="372.60" y="187.73" width="4.62" height="4.13" fill="#aaaaaa"/>
<rect x="381.84" y="187.73" width="4.62" height="4.13" fill="#aaaaaa"/>
<rect x="441.90" y="187.73" width="4.62" height="4.13" fill="#a4a4a4"/>
<rect x="478.86" y="187.73" width="4.62" height="4.13" fill="#aaaaaa"/>
<rect x="520.44" y="187.73" width="4.62" height="4.13" fill="#a4a4a4"/>
<rect x="529.68" y="187.73" width="4.62" height="4.13" fill="#a4a4a4"/>
<rect x="543.54" y="187.73" width="4.62" height="4.13" fill="#a4a4a4"/>
<rect x="557.40" y="187.73" width="4.62" height="4.13" fill="#a4a4a4"/>
<rect x="326.40" y="191.86" width="5.32" height="4.83" fill="#aaaaaa"/>
<rect x="331.02" y="191.86" width="5.32" height="4.83" fill="#bcbcbc"/>
<rect x="335.64" y="191.86" width="4.62" height="4.83" fill="#b6b6b6"/>
<rect x="349.50" y="191.86" width="4.62" height="4.83" fill="#aaaaaa"/>
<rect x="363.36" y="191.86" width="4.62" height="4.13" fill="#aaaaaa"/>
<rect x="377.22" y="191.86" width="4.62" height="4.83" fill="#aaaaaa"/>
<rect x="386.46" y="191.86" width="4.62" height="4.13" fill="#a4a4a4"/>
<rect x="404.94" y="191.86" width="5.32" height="4.13" fill="#aaaaaa"/>
<rect x="409.56" y="191.86" width="4.62" height="4.13" fill="#aaaaaa"/>
<rect x="432.66" y="191.86" width="4.62" height="4.13" fill="#a4a4a4"/>
<rect x="474.24" y="191.86" width="4.62" height="4.13" fill="#a4a4a4"/>
<rect x="511.20" y="191.86" width="4.62" height="4.13" fill="#a4a4a4"/>
<rect x="326.40" y="195.99" width="5.32" height="4.83" fill="#b4b4b4"/>
<rect x="331.02" y="195.99" width="5.32" height="4.83" fill="#bcbcbc"/>
<rect x="335.64" y="195.99" width="5.32" height="4.83" fill="#bcbcbc"/>
<rect x="340.26" y="195.99" width="4.62" height="4.83" fill="#b0b0b0"/>
<rect x="349.50" y="195.99" width="5.32" height="4.13" fill="#b0b0b0"/>
<rect x="354.12" y="195.99" width="5.32" height="4.13" fill="#b0b0b0"/>
<rect x="358.74" y="195.99" width="4.62" height="4.13" fill="#aaaaaa"/>
<rect x="367.98" y="195.99" width="4.62" height="4.13" fill="#a4a4a4"/>
<rect x="377.22" y="195.99" width="4.62" height="4.13" fill="#aaaaaa"/>
<rect x="395.70" y="195.99" width="4.62" height="4.13" fill="#a4a4a4"/>
<rect x="441.90" y="195.99" width="4.62" height="4.13" fill="#a4a4a4"/>
<rect x="469.62" y="195.99" width="4.62" height="4.13" fill="#a4a4a4"/>
<rect x="488.10" y="195.99" width="4.62" height="4.13" fill="#a4a4a4"/>
<rect x="326.40" y="200.12" width="5.32" height="4.13" fill="#b0b0b0"/>
<rect x="331.02" y="200.12" width="5.32" height="4.83" fill="#bcbcbc"/>
<rect x="335.64" y="200.12" width="5.32" height="4.13" fill="#b6b6b6"/>
<rect x="340.26" y="200.12" width="5.32" height="4.83" fill="#bcbcbc"/>
<rect x="344.88" y="200.12" width="4.62" height="4.13" fill="#aaaaaa"/>
<rect x="331.02" y="204.25" width="4.62" height="4.13" fill="#aaaaaa"/>
<rect x="340.26" y="204.25" width="4.62" height="4.13" fill="#aaaaaa"/>
<rect x="354.12" y="204.25" width="4.62" height="4.13" fill="#a4a4a4"/>
<rect x="367.98" y="204.25" width="4.62" height="4.13" fill="#a4a4a4"/>
<rect x="377.22" y="204.25" width="4.62" height="4.13" fill="#a4a4a4"/>
<rect x="404.94" y="204.25" width="5.32" height="4.13" fill="#aaaaaa"/>
<rect x="409.56" y="204.25" width="4.62" height="4.13" fill="#aaaaaa"/>
<rect x="326.40" y="208.38" width="4.62" height="4.83" fill="#aaaaaa"/>
<rect x="326.40" y="212.51" width="5.32" height="4.13" fill="#b0b0b0"/>
<rect x="331.02" y="212.51" width="4.62" height="4.13" fill="#aaaaaa"/>
<rect x="326.40" y="237.29" width="4.62" height="4.13" fill="#a4a4a4"/>
</g>
<line x1="315.00" y1="167.05" x2="573.70" y2="167.05" stroke="#2c2c2c" stroke-width="1.2"/>
<rect x="315.00" y="33.20" width="258.70" height="226.80" fill="none" stroke="#b4b4b4" stroke-width="1.2"/>
<line x1="312.80" y1="249.60" x2="315.00" y2="249.60" stroke="#383838" stroke-width="0.9"/>
<text x="311.70" y="251.95" class="tk" text-anchor="end">0.0</text>
<line x1="312.80" y1="208.40" x2="315.00" y2="208.40" stroke="#383838" stroke-width="0.9"/>
<text x="311.70" y="210.75" class="tk" text-anchor="end">0.5</text>
<line x1="312.80" y1="167.20" x2="315.00" y2="167.20" stroke="#383838" stroke-width="0.9"/>
<text x="311.70" y="169.55" class="tk" text-anchor="end">1.0</text>
<line x1="312.80" y1="126.00" x2="315.00" y2="126.00" stroke="#383838" stroke-width="0.9"/>
<text x="311.70" y="128.35" class="tk" text-anchor="end">1.5</text>
<line x1="312.80" y1="84.80" x2="315.00" y2="84.80" stroke="#383838" stroke-width="0.9"/>
<text x="311.70" y="87.15" class="tk" text-anchor="end">2.0</text>
<line x1="312.80" y1="43.60" x2="315.00" y2="43.60" stroke="#383838" stroke-width="0.9"/>
<text x="311.70" y="45.95" class="tk" text-anchor="end">2.5</text>
<line x1="326.30" y1="260.00" x2="326.30" y2="262.20" stroke="#383838" stroke-width="0.9"/>
<text x="326.30" y="268.80" class="tk" text-anchor="middle">0</text>
<line x1="383.50" y1="260.00" x2="383.50" y2="262.20" stroke="#383838" stroke-width="0.9"/>
<text x="383.50" y="268.80" class="tk" text-anchor="middle">50</text>
<line x1="440.70" y1="260.00" x2="440.70" y2="262.20" stroke="#383838" stroke-width="0.9"/>
<text x="440.70" y="268.80" class="tk" text-anchor="middle">100</text>
<line x1="497.80" y1="260.00" x2="497.80" y2="262.20" stroke="#383838" stroke-width="0.9"/>
<text x="497.80" y="268.80" class="tk" text-anchor="middle">150</text>
<line x1="555.00" y1="260.00" x2="555.00" y2="262.20" stroke="#383838" stroke-width="0.9"/>
<text x="555.00" y="268.80" class="tk" text-anchor="middle">200</text>
<text x="444.35" y="278.00" class="ax" text-anchor="middle">County average harvested area (thou. acres)</text>
<text transform="translate(298.00 147.00) rotate(-90)" class="ax" text-anchor="middle">Error value per county</text>
<text x="321.50" y="9.9" class="tt" textLength="163" lengthAdjust="spacingAndGlyphs">cNRMS by county, irrigated maize</text>
<text x="321.50" y="24.45" class="tt" textLength="150" lengthAdjust="spacingAndGlyphs">Total number of counties = 401</text>
<rect x="150.30" y="291.50" width="57.60" height="10.70" fill="url(#lg)"/>
<text x="151.20" y="308.45" class="lg" text-anchor="middle">0</text>
<line x1="164.50" y1="291.50" x2="164.50" y2="293.60" stroke="#fff" stroke-width="0.5" stroke-opacity="0.7"/>
<line x1="164.50" y1="300.10" x2="164.50" y2="302.20" stroke="#fff" stroke-width="0.5" stroke-opacity="0.7"/>
<text x="164.70" y="308.45" class="lg" text-anchor="middle">50</text>
<line x1="178.70" y1="291.50" x2="178.70" y2="293.60" stroke="#fff" stroke-width="0.5" stroke-opacity="0.7"/>
<line x1="178.70" y1="300.10" x2="178.70" y2="302.20" stroke="#fff" stroke-width="0.5" stroke-opacity="0.7"/>
<text x="178.80" y="308.45" class="lg" text-anchor="middle">100</text>
<line x1="192.80" y1="291.50" x2="192.80" y2="293.60" stroke="#fff" stroke-width="0.5" stroke-opacity="0.7"/>
<line x1="192.80" y1="300.10" x2="192.80" y2="302.20" stroke="#fff" stroke-width="0.5" stroke-opacity="0.7"/>
<text x="192.60" y="308.45" class="lg" text-anchor="middle">150</text>
<text x="206.70" y="308.45" class="lg" text-anchor="middle">200</text>
<text x="146.80" y="302.25" class="lt" text-anchor="end">Number of counties</text>
<rect x="440.15" y="291.50" width="57.60" height="10.70" fill="url(#lg)"/>
<text x="441.05" y="308.45" class="lg" text-anchor="middle">0</text>
<line x1="454.35" y1="291.50" x2="454.35" y2="293.60" stroke="#fff" stroke-width="0.5" stroke-opacity="0.7"/>
<line x1="454.35" y1="300.10" x2="454.35" y2="302.20" stroke="#fff" stroke-width="0.5" stroke-opacity="0.7"/>
<text x="454.55" y="308.45" class="lg" text-anchor="middle">50</text>
<line x1="468.55" y1="291.50" x2="468.55" y2="293.60" stroke="#fff" stroke-width="0.5" stroke-opacity="0.7"/>
<line x1="468.55" y1="300.10" x2="468.55" y2="302.20" stroke="#fff" stroke-width="0.5" stroke-opacity="0.7"/>
<text x="468.65" y="308.45" class="lg" text-anchor="middle">100</text>
<line x1="482.65" y1="291.50" x2="482.65" y2="293.60" stroke="#fff" stroke-width="0.5" stroke-opacity="0.7"/>
<line x1="482.65" y1="300.10" x2="482.65" y2="302.20" stroke="#fff" stroke-width="0.5" stroke-opacity="0.7"/>
<text x="482.45" y="308.45" class="lg" text-anchor="middle">150</text>
<text x="496.55" y="308.45" class="lg" text-anchor="middle">200</text>
<text x="436.65" y="302.25" class="lt" text-anchor="end">Number of counties</text>
</svg>
</body>
</html>
